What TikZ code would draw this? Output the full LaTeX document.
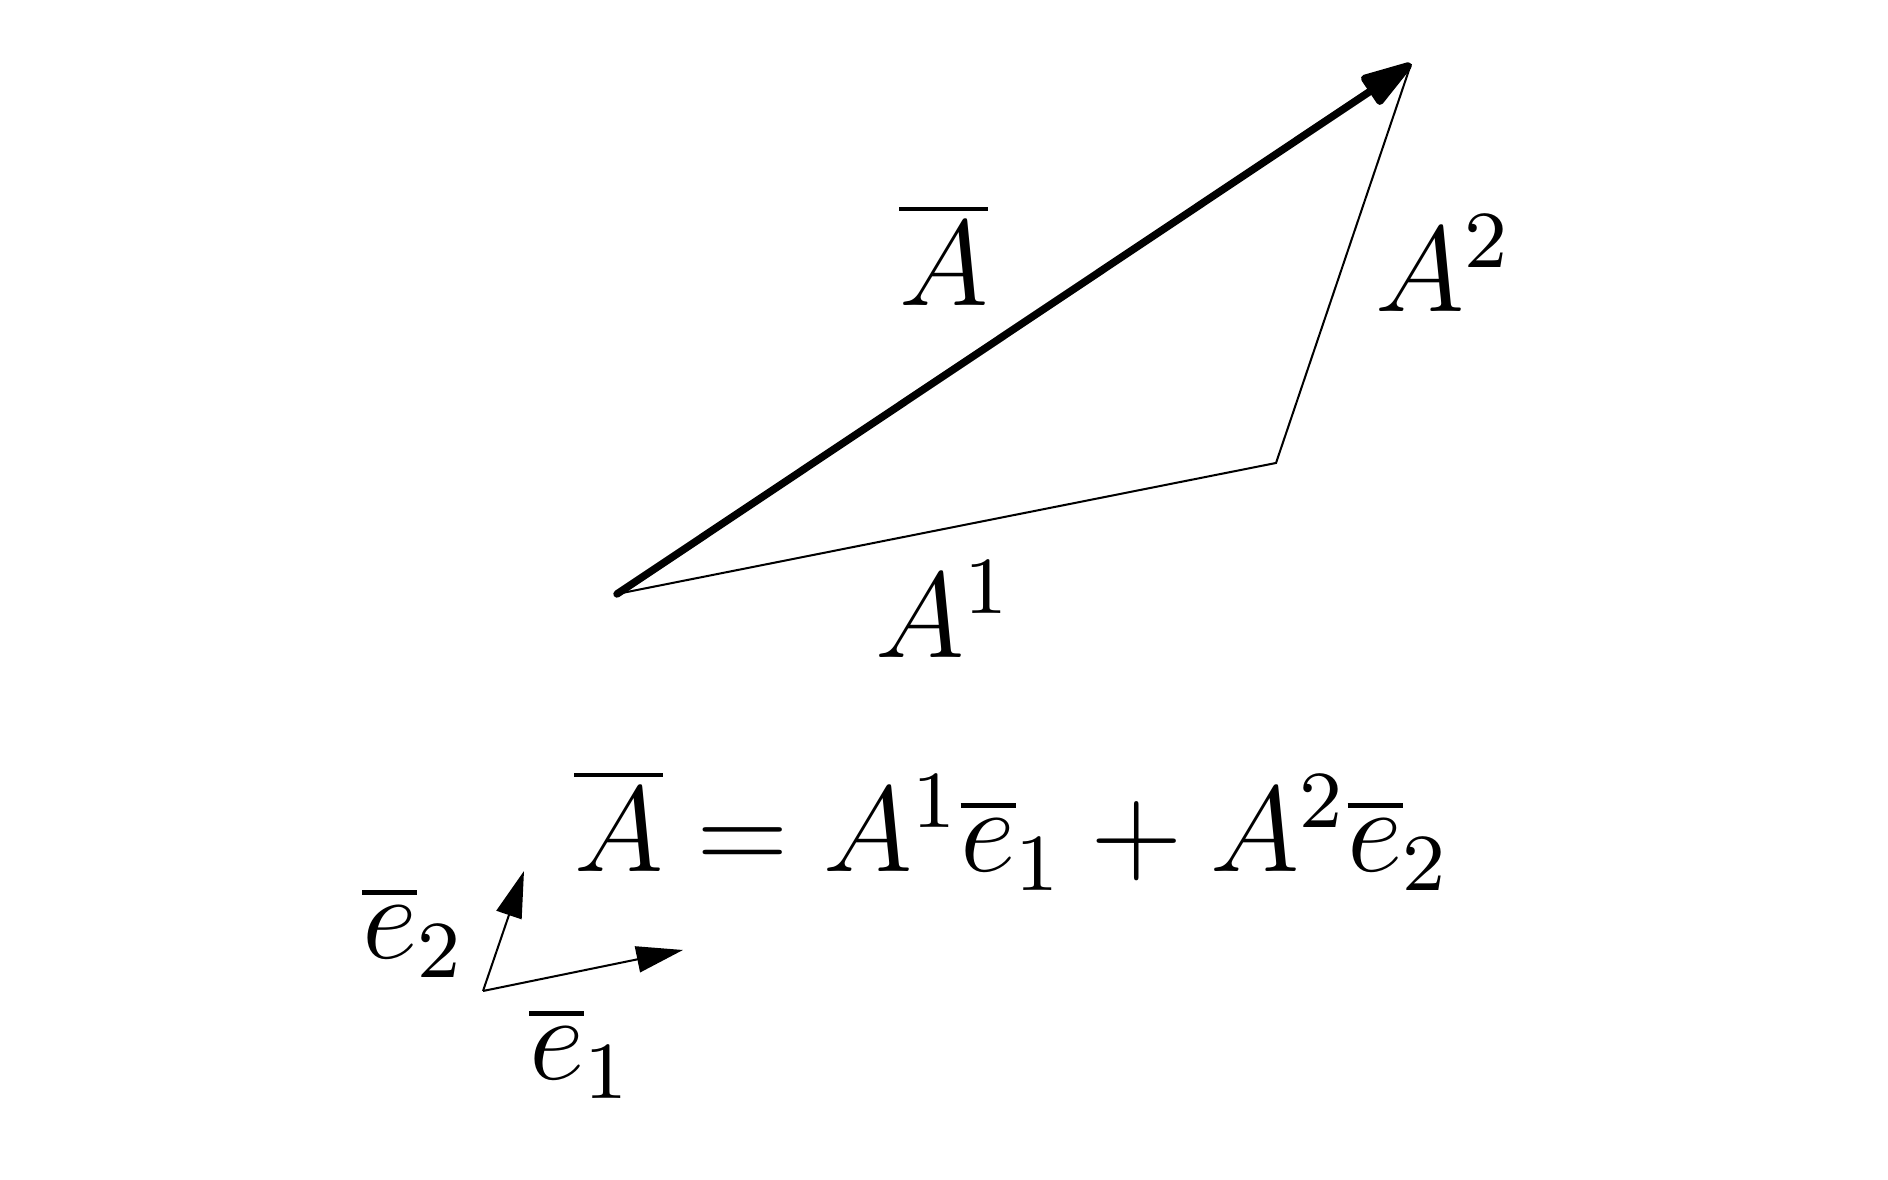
\documentclass[tikz,border=0pt]{standalone}
\usetikzlibrary{arrows.meta}
\begin{document}
\begin{tikzpicture}[x=0.09877pt,y=-0.09877pt,
  every node/.style={font=\large},
  thinline/.style={line width=0.2pt},
  thickvec/.style={line width=0.74pt, line cap=round, -{Triangle[length=5.9pt,width=3.5pt,round]}},
  basisvec/.style={line width=0.2pt, -{Triangle[length=4.6pt,width=2.6pt]}},
  lbl/.style={inner sep=0pt, anchor=base west}]
\useasboundingbox (0,0) rectangle (1888,1180);
% main triangle
\coordinate (O) at (617,594);
\coordinate (T) at (1411,64);
\coordinate (C) at (1276,463);
\draw[thinline, line join=miter] (O) -- (C) -- (T);
\draw[thickvec] (O) -- (T);
\node[lbl] (Abar) at (897,306) {$\overline{A}$};
\node[lbl] (A2) at (1373,312) {$A^2$};
\node[lbl] (A1) at (873,658) {$A^1$};
% equation
\node[lbl] (eq) at (572,872) {$\overline{A}=A^1\overline{e}_1+A^2\overline{e}_2$};
% basis
\coordinate (E) at (483,991);
\coordinate (E1) at (683,950);
\coordinate (E2) at (524,871);
\draw[basisvec] (E) -- (E1);
\draw[basisvec] (E) -- (E2);
\node[lbl] (e2) at (360,959) {$\overline{e}_2$};
\node[lbl] (e1) at (527,1080) {$\overline{e}_1$};
\end{tikzpicture}
\end{document}
